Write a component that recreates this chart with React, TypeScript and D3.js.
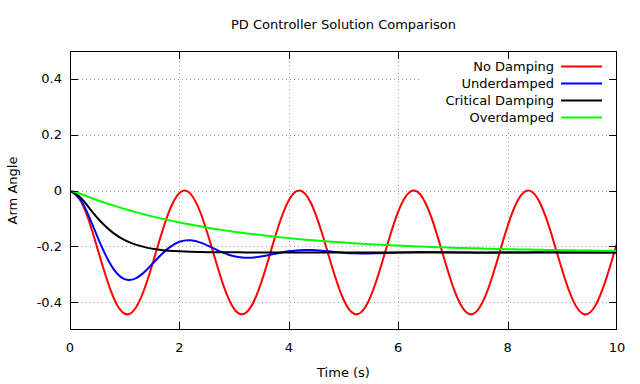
import * as d3 from 'd3';
import React from 'react';

const width = 640;
const height = 384;
const margin = { top: 51, right: 23, bottom: 54, left: 70 };

// sample times (s)
const times = [
  0, 0.2, 0.4, 0.6, 0.8, 1.0, 1.2, 1.4, 1.6, 1.8,
  2.0, 2.2, 2.4, 2.6, 2.8, 3.0, 3.2, 3.4, 3.6, 3.8,
  4.0, 4.2, 4.4, 4.6, 4.8, 5.0, 5.2, 5.4, 5.6, 5.8,
  6.0, 6.2, 6.4, 6.6, 6.8, 7.0, 7.2, 7.4, 7.6, 7.8,
  8.0, 8.2, 8.4, 8.6, 8.8, 9.0, 9.2, 9.4, 9.6, 9.8, 10.0,
];

const noDamping = [
  0, -0.0388, -0.1416, -0.2724, -0.3857, -0.4418, -0.4211, -0.3308, -0.2026, -0.0811,
  -0.0088, -0.0111, -0.0869, -0.21, -0.3373, -0.4243, -0.4406, -0.3806, -0.2651, -0.1346,
  -0.0347, -0.0001, -0.0431, -0.1485, -0.2797, -0.3907, -0.4427, -0.4177, -0.3243, -0.1952,
  -0.0754, -0.0069, -0.0135, -0.0929, -0.2175, -0.3436, -0.4272, -0.4392, -0.3752, -0.2578,
  -0.1278, -0.0308, -0.0005, -0.0476, -0.1556, -0.2868, -0.3954, -0.4434, -0.414, -0.3176, -0.1877,
];

const underdamped = [
  0, -0.0352, -0.1177, -0.2103, -0.2825, -0.3176, -0.3148, -0.2849, -0.2436, -0.2066,
  -0.1837, -0.1784, -0.1876, -0.2049, -0.2228, -0.2358, -0.2413, -0.2396, -0.233, -0.2248,
  -0.2179, -0.214, -0.2136, -0.2158, -0.2193, -0.2227, -0.225, -0.2258, -0.2253, -0.2239,
  -0.2223, -0.221, -0.2204, -0.2204, -0.2209, -0.2216, -0.2222, -0.2227, -0.2228, -0.2226,
  -0.2223, -0.222, -0.2218, -0.2217, -0.2217, -0.2218, -0.2219, -0.222, -0.2221, -0.2221, -0.2221,
];

const critical = [
  0, -0.0271, -0.0749, -0.1192, -0.1535, -0.1778, -0.1941, -0.2047, -0.2114, -0.2156,
  -0.2181, -0.2197, -0.2206, -0.2212, -0.2215, -0.2217, -0.2218, -0.2219, -0.222, -0.222,
  -0.222, -0.222, -0.222, -0.222, -0.222, -0.222, -0.222, -0.222, -0.222, -0.222,
  -0.222, -0.222, -0.222, -0.222, -0.222, -0.222, -0.222, -0.222, -0.222, -0.222,
  -0.222, -0.222, -0.222, -0.222, -0.222, -0.222, -0.222, -0.222, -0.222, -0.222, -0.222,
];

const overdamped = [
  0, -0.0127, -0.0276, -0.0414, -0.0543, -0.0663, -0.0774, -0.0877, -0.0973, -0.1062,
  -0.1144, -0.1221, -0.1292, -0.1359, -0.142, -0.1477, -0.153, -0.1579, -0.1625, -0.1667,
  -0.1707, -0.1743, -0.1777, -0.1809, -0.1838, -0.1866, -0.1891, -0.1914, -0.1936, -0.1956,
  -0.1975, -0.1993, -0.2009, -0.2024, -0.2038, -0.2051, -0.2063, -0.2074, -0.2085, -0.2094,
  -0.2103, -0.2112, -0.2119, -0.2126, -0.2133, -0.2139, -0.2145, -0.215, -0.2155, -0.216, -0.2164,
];

const seriesNames = ['No Damping', 'Underdamped', 'Critical Damping', 'Overdamped'];
const seriesColors = ['#ff0000', '#0000ff', '#000000', '#00ff00'];
const seriesValues = [noDamping, underdamped, critical, overdamped];

const xTicks = [0, 2, 4, 6, 8, 10];
const yTicks = [-0.4, -0.2, 0, 0.2, 0.4];

const font = 'DejaVu Sans, sans-serif';

export default function App() {
  const x = d3.scaleLinear().domain([0, 10]).range([margin.left, width - margin.right]);
  const y = d3.scaleLinear().domain([-0.5, 0.5]).range([height - margin.bottom, margin.top]);
  const x0 = x.range()[0];
  const x1 = x.range()[1];
  const y0 = y.range()[0];
  const y1 = y.range()[1];
  const tickLen = 8;
  const px = (v: number) => Math.round(v) + 0.5;

  const line = d3
    .line<number>()
    .x((_, i) => x(times[i]))
    .y((d) => y(d))
    .curve(d3.curveNatural);

  // legend (opaque key, top right)
  const keyLeft = 422;
  const keyTop = y1 + 4;
  const keyRow = 17;
  const keyTextX = 554;
  const keyLine = [561, 602];

  return (
    <svg
      width={width}
      height={height}
      style={{ position: 'absolute', left: 0, top: 0, background: '#fff' }}
      fontFamily={font}
      fontSize={13}
    >
      <defs>
        <clipPath id="plot">
          <rect x={x0} y={y1} width={x1 - x0} height={y0 - y1} />
        </clipPath>
      </defs>

      {/* grid */}
      <g stroke="#a0a0a0" strokeWidth={1} strokeDasharray="1,3">
        {xTicks.slice(1, -1).map((t) => (
          <line key={'gx' + t} x1={px(x(t))} x2={px(x(t))} y1={y0} y2={y1} />
        ))}
        {yTicks.map((t) => (
          <line key={'gy' + t} x1={x0} x2={x1} y1={px(y(t))} y2={px(y(t))} />
        ))}
      </g>

      {/* curves */}
      <g clipPath="url(#plot)" fill="none" strokeWidth={2} strokeLinejoin="round">
        {seriesValues.map((vals, i) => (
          <path key={seriesNames[i]} d={line(vals) ?? ''} stroke={seriesColors[i]} />
        ))}
      </g>

      {/* key */}
      <rect x={keyLeft} y={keyTop} width={x1 - keyLeft - 2} height={keyRow * 4 + 4} fill="#fff" />
      {seriesNames.map((name, i) => {
        const cy = keyTop + 11 + i * keyRow;
        return (
          <g key={'k' + name}>
            <text x={keyTextX} y={cy} dy="0.35em" textAnchor="end" fill="#000">
              {name}
            </text>
            <line x1={keyLine[0]} x2={keyLine[1]} y1={cy + 0.5} y2={cy + 0.5} stroke={seriesColors[i]} strokeWidth={2} />
          </g>
        );
      })}

      {/* border + ticks */}
      <g stroke="#000" strokeWidth={1}>
        <rect x={x0 + 0.5} y={y1 + 0.5} width={x1 - x0 - 1} height={y0 - y1 - 1} fill="none" />
        {xTicks.slice(1, -1).map((t) => (
          <g key={'tx' + t}>
            <line x1={px(x(t))} x2={px(x(t))} y1={y0} y2={y0 - tickLen} />
            <line x1={px(x(t))} x2={px(x(t))} y1={y1} y2={y1 + tickLen} />
          </g>
        ))}
        {yTicks.map((t) => (
          <g key={'ty' + t}>
            <line x1={x0} x2={x0 + tickLen} y1={px(y(t))} y2={px(y(t))} />
            <line x1={x1} x2={x1 - tickLen} y1={px(y(t))} y2={px(y(t))} />
          </g>
        ))}
      </g>

      {/* tick labels */}
      {xTicks.map((t) => (
        <text key={'lx' + t} x={x(t)} y={y0 + 22} textAnchor="middle" fill="#000">
          {t}
        </text>
      ))}
      {yTicks.map((t) => (
        <text key={'ly' + t} x={x0 - 8} y={y(t)} dy="0.35em" textAnchor="end" fill="#000">
          {t === 0 ? '0' : d3.format('.1f')(t).replace('−', '-')}
        </text>
      ))}

      {/* titles */}
      <text x={(x0 + x1) / 2} y={29} textAnchor="middle" fill="#000">
        PD Controller Solution Comparison
      </text>
      <text x={(x0 + x1) / 2} y={377} textAnchor="middle" fill="#000">
        Time (s)
      </text>
      <text transform={`translate(17, ${(y0 + y1) / 2}) rotate(-90)`} textAnchor="middle" fill="#000">
        Arm Angle
      </text>
    </svg>
  );
}
